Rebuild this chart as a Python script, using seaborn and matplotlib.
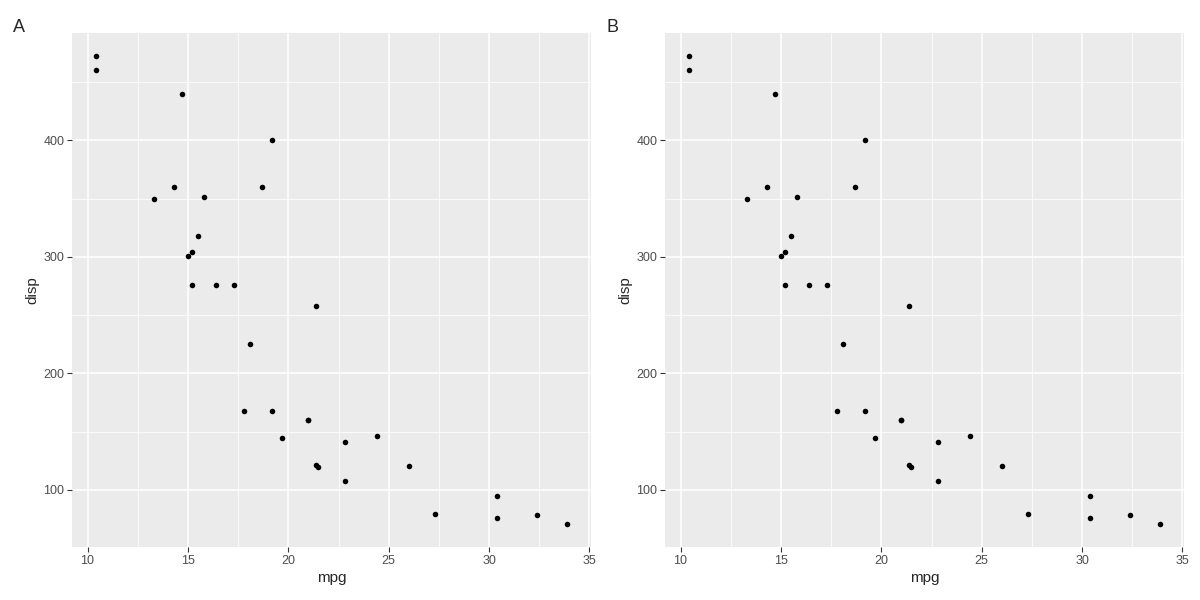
import pandas as pd
import seaborn as sns
import matplotlib.pyplot as plt
from matplotlib.ticker import MultipleLocator

# mtcars: mpg vs disp
mpg = [21.0, 21.0, 22.8, 21.4, 18.7, 18.1, 14.3, 24.4, 22.8, 19.2, 17.8,
       16.4, 17.3, 15.2, 10.4, 10.4, 14.7, 32.4, 30.4, 33.9, 21.5, 15.5,
       15.2, 13.3, 19.2, 27.3, 26.0, 30.4, 15.8, 19.7, 15.0, 21.4]
disp = [160, 160, 108, 258, 360, 225, 360, 146.7, 140.8, 167.6, 167.6,
        275.8, 275.8, 275.8, 472, 460, 440, 78.7, 75.7, 71.1, 120.1, 318,
        304, 350, 400, 79, 120.3, 95.1, 351, 145, 301, 121]
panel_labels = ["A", "B"]

df = pd.DataFrame({"mpg": mpg, "disp": disp})

sns.set_style("white")
plt.rcParams["font.family"] = ["Liberation Sans", "DejaVu Sans"]

fig = plt.figure(figsize=(12, 6), dpi=100)

lefts = [72 / 1200, 665 / 1200]
for left, lab in zip(lefts, panel_labels):
    ax = fig.add_axes([left, 0.0883, 0.4325, 0.8567])
    ax.set_facecolor("#EBEBEB")
    for s in ax.spines.values():
        s.set_visible(False)
    ax.set_axisbelow(True)
    ax.xaxis.set_major_locator(MultipleLocator(5))
    ax.xaxis.set_minor_locator(MultipleLocator(2.5))
    ax.yaxis.set_major_locator(MultipleLocator(100))
    ax.yaxis.set_minor_locator(MultipleLocator(50))
    ax.grid(which="major", color="white", linewidth=1.1)
    ax.grid(which="minor", color="white", linewidth=0.55)
    sns.scatterplot(data=df, x="mpg", y="disp", ax=ax, color="black",
                    s=16, linewidth=0)
    rx = max(mpg) - min(mpg)
    ry = max(disp) - min(disp)
    ax.set_xlim(min(mpg) - 0.05 * rx, max(mpg) + 0.05 * rx)
    ax.set_ylim(min(disp) - 0.05 * ry, max(disp) + 0.05 * ry)
    ax.tick_params(which="major", bottom=True, left=True, length=3.5,
                   width=0.8, color="#333333", labelcolor="#4D4D4D",
                   labelsize=9, pad=2)
    ax.tick_params(which="minor", bottom=False, left=False, length=0)
    ax.set_xlabel("mpg", fontsize=11, labelpad=3)
    ax.set_ylabel("disp", fontsize=11, labelpad=3)
    fig.text(left - 59 / 1200, 1 - 32 / 600, lab, fontsize=13,
             ha="left", va="baseline")

fig.savefig("out.png", dpi=100)
